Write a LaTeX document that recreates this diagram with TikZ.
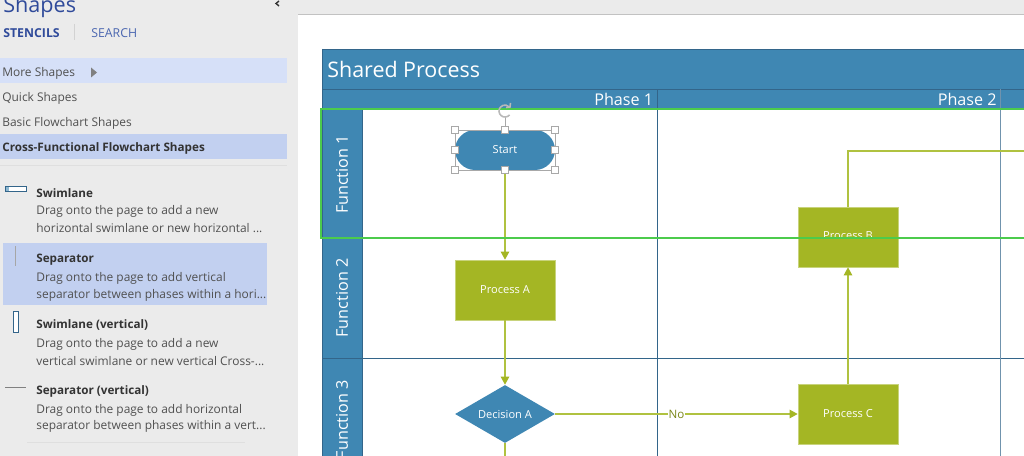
\documentclass[tikz,border=0pt]{standalone}
\usepackage{fontspec}
\setmainfont{Open Sans}
\usetikzlibrary{arrows.meta,shapes.geometric}
\definecolor{panelgrey}{HTML}{EBEBEB}
\definecolor{rowlight}{HTML}{D6E0F8}
\definecolor{rowdark}{HTML}{C2D0F0}
\definecolor{navytext}{HTML}{2F4A9A}
\definecolor{bluetext}{HTML}{4A66B0}
\definecolor{greytext}{HTML}{505050}
\definecolor{darktext}{HTML}{333333}
\definecolor{laneblue}{HTML}{3F87B3}
\definecolor{lanedark}{HTML}{33658A}
\definecolor{boxolive}{HTML}{A4B624}
\definecolor{lineolive}{HTML}{B0C240}
\definecolor{selgreen}{HTML}{4CCB4C}
\definecolor{selgrey}{HTML}{A8A8A8}
\tikzset{
    menu/.style={anchor=west, inner sep=0pt, font=\fontsize{6.8}{8}\selectfont, text=greytext},
    itemhead/.style={anchor=west, inner sep=0pt, font=\fontsize{6.65}{8}\selectfont\bfseries, text=darktext},
    itemtext/.style={anchor=west, inner sep=0pt, font=\fontsize{6.8}{8}\selectfont, text=greytext},
    lanelabel/.style={text=white, inner sep=0pt, font=\fontsize{9.2}{10}\selectfont},
    procbox/.style={fill=boxolive, draw=boxolive!60!white, text=white, minimum width=2cm, minimum height=1.2cm, inner sep=0pt, font=\fontsize{6.3}{7}\selectfont},
    flowline/.style={lineolive, line width=0.6pt, -{Triangle[length=1.6mm,width=1.7mm,color=boxolive]}},
    plainline/.style={lineolive, line width=0.6pt},
    handle/.style={fill=white, draw=selgrey, minimum size=0.13cm, inner sep=0pt}
}
\begin{document}
\begin{tikzpicture}[x=0.02cm, y=-0.02cm]
    \clip (0,0) rectangle (1024,456);
    % panel and page
    \fill[panelgrey] (0,0) rectangle (1024,456);
    \fill[white] (298,15) rectangle (1024,456);
    \draw[selgrey!70!white, thick] (298,14.5) -- (1024,14.5);
    \fill[rowlight] (0,58) rectangle (287,83);
    \fill[rowdark] (0,134) rectangle (287,159);
    \fill[rowdark] (3,243) rectangle (267,305);
    \draw[gray!25] (0,165) -- (287,165);
    \draw[gray!25] (27,442) -- (245,442);
    \draw[gray!35] (74.5,24) -- (74.5,40);

    % panel texts
    \node[anchor=west, inner sep=0pt, text=navytext, font=\fontsize{12.3}{14}\selectfont] (shapes) at (3,7) {Shapes};
    \node[menu, text=navytext, font=\fontsize{7}{8}\selectfont\bfseries] (stencils) at (3,33) {STENCILS};
    \node[menu, text=bluetext, font=\fontsize{7}{8}\selectfont] (search) at (91,33) {SEARCH};
    \node[menu] (more) at (2,73) {More Shapes};
    \node[menu] (quick) at (2,98) {Quick Shapes};
    \node[menu] (basic) at (2,123) {Basic Flowchart Shapes};
    \node[itemhead] (cross) at (2,148) {Cross-Functional Flowchart Shapes};
    \fill[gray] (91,67.5) -- (97,72.5) -- (91,77.5) -- cycle;
    \draw[darktext, thick] (279,1) -- (276,3.5) -- (279,6);

    \node[itemhead] (swim) at (36,193) {Swimlane};
    \node[itemtext] (swima) at (36,211.5) {Drag onto the page to add a new};
    \node[itemtext] (swimb) at (36,228.5) {horizontal swimlane or new horizontal ...};
    \node[itemhead] (sep) at (36,259.5) {Separator};
    \node[itemtext] (sepa) at (36,278) {Drag onto the page to add vertical};
    \node[itemtext] (sepb) at (36,295) {separator between phases within a hori...};
    \node[itemhead] (vswim) at (36,325) {Swimlane (vertical)};
    \node[itemtext] (vswima) at (36,344) {Drag onto the page to add a new};
    \node[itemtext] (vswimb) at (36,361) {vertical swimlane or new vertical Cross-...};
    \node[itemhead] (vsep) at (36,391) {Separator (vertical)};
    \node[itemtext] (vsepa) at (36,410) {Drag onto the page to add horizontal};
    \node[itemtext] (vsepb) at (36,426.5) {separator between phases within a vert...};

    % panel icons
    \draw[lanedark, fill=white] (5,186.5) rectangle (26,191);
    \fill[laneblue!60!white] (5.5,187) rectangle (9,190.5);
    \draw[gray!70] (15,246) -- (15,266);
    \draw[lanedark, fill=white] (13,311.5) rectangle (18,332);
    \draw[gray] (5,387) -- (26,387);

    % swimlane frame
    \fill[laneblue] (322,49) rectangle (1024,109);
    \fill[laneblue] (322,109) rectangle (362,456);
    \draw[lanedark] (322,49) -- (1024,49);
    \draw[lanedark] (322,89.5) -- (1024,89.5);
    \draw[lanedark] (322,49) -- (322,456);
    \draw[lanedark] (362,109) -- (362,456);
    \draw[lanedark] (322,238) -- (1024,238);
    \draw[lanedark] (322,358.5) -- (1024,358.5);
    \draw[lanedark] (657,89.5) -- (657,456);
    \draw[lanedark!70!white, thick] (1000.5,89.5) -- (1000.5,456);

    \node[anchor=west, inner sep=0pt, text=white, font=\fontsize{12.2}{14}\selectfont] (title) at (327,69) {Shared Process};
    \node[lanelabel, anchor=east] (phaseone) at (653.5,99.5) {Phase 1};
    \node[lanelabel, anchor=east] (phasetwo) at (997,99.5) {Phase 2};
    \node[lanelabel, rotate=90] (funcone) at (342,174.5) {Function 1};
    \node[lanelabel, rotate=90] (functwo) at (342,298) {Function 2};
    \node[lanelabel, rotate=90, anchor=east] (functhree) at (342,380) {Function 3};

    % flow shapes
    \node[procbox, draw=none, fill=laneblue, minimum height=0.8cm, rounded corners=0.4cm] (start) at (505,150) {Start};
    \node[procbox] (proca) at (505,290) {Process A};
    \node[procbox, draw=none, fill=laneblue, diamond, aspect=1.72, minimum height=1.16cm] (deca) at (505,414) {Decision A};
    \node[procbox] (procb) at (848,237) {\raisebox{2pt}{Process B}};
    \node[procbox] (procc) at (848,414) {Process C};
    \coordinate (outright) at (1024,151);
    \coordinate (outdown) at (505,456);
    \coordinate (turn) at (848,151);

    \draw[flowline] (start) -- (proca);
    \draw[flowline] (proca) -- (deca);
    \draw[plainline] (deca) -- (outdown);
    \draw[flowline] (procc) -- (procb);
    \draw[plainline] (procb) -- (turn) -- (outright);
    \draw[flowline] (deca) -- (procc) node[pos=0.5, fill=white, inner sep=0.5pt, text=boxolive!75!black, font=\fontsize{6.6}{7}\selectfont] (nolabel) {No};

    % part of the label under the selection edge
    \fill[boxolive] (799,238) rectangle (897,246);

    % selection
    \draw[selgreen, line width=1pt] (321,109) rectangle (1030,238);
    \draw[selgrey] (455,130) rectangle (555,170);
    \draw[selgrey] (505,130) -- (505,118);
    \foreach \x in {455,505,555}
        \foreach \y in {130,170}
            \node[handle] at (\x,\y) {};
    \node[handle] at (455,150) {};
    \node[handle] at (555,150) {};
    \draw[selgrey!80!white, line width=0.9pt] (509.6,114.9) arc (40:320:6);
    \draw[selgrey!80!white, line width=0.9pt] (506,107.5) -- (510,107) -- (510.5,103);
\end{tikzpicture}
\end{document}
